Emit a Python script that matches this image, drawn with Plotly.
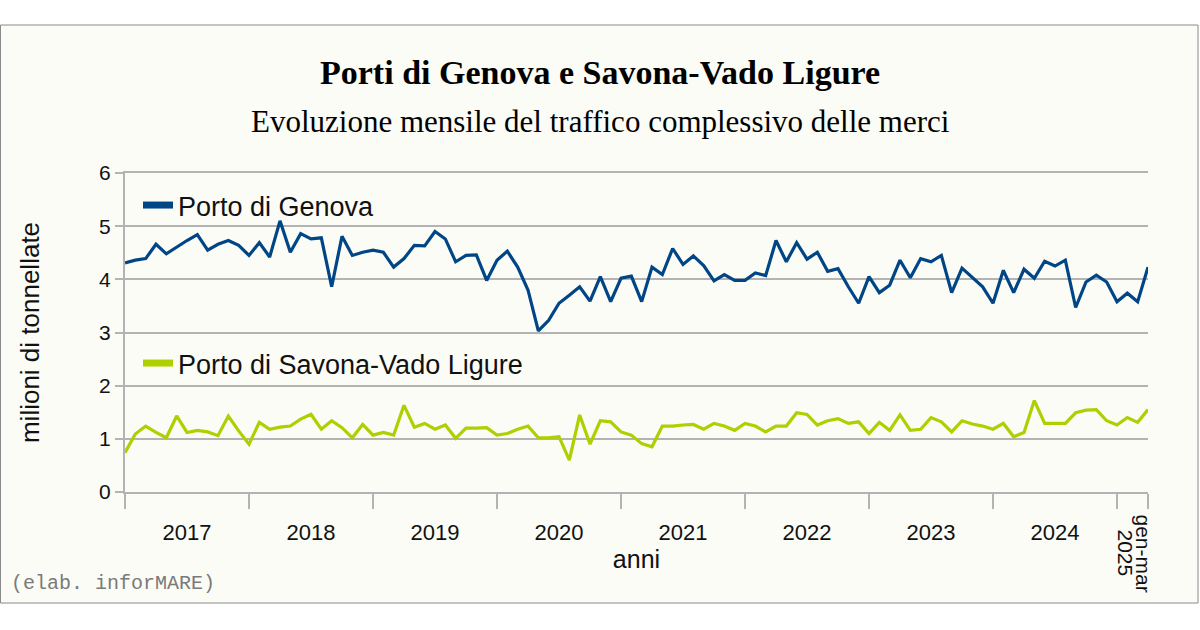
import plotly.graph_objects as go

# ---- data (million tonnes per month) ----
genova = [4.31, 4.36, 4.39, 4.66, 4.48, 4.61, 4.73, 4.84, 4.55, 4.66, 4.73, 4.64, 4.45, 4.69, 4.42, 5.10, 4.51,
          4.86, 4.76, 4.78, 3.86, 4.81, 4.45, 4.51, 4.55, 4.51, 4.23, 4.39, 4.64, 4.63, 4.90, 4.76, 4.33,
          4.45, 4.46, 3.98, 4.36, 4.53, 4.23, 3.80, 3.03, 3.23, 3.55, 3.70, 3.86, 3.59, 4.05, 3.58, 4.02, 4.06,
          3.58, 4.23, 4.09, 4.58, 4.28, 4.44, 4.26, 3.97, 4.09, 3.98, 3.98, 4.12, 4.07, 4.73, 4.33, 4.69,
          4.38, 4.51, 4.15, 4.20, 3.86, 3.55, 4.05, 3.75, 3.89, 4.36, 4.03, 4.39, 4.33, 4.45, 3.75, 4.21, 4.03,
          3.86, 3.55, 4.17, 3.75, 4.19, 4.02, 4.34, 4.25, 4.36, 3.47, 3.95, 4.08, 3.95, 3.58, 3.74, 3.58, 4.23]

savona = [0.74, 1.09, 1.24, 1.12, 1.02, 1.43, 1.12, 1.16, 1.13, 1.06, 1.43, 1.15, 0.90, 1.31, 1.18, 1.22, 1.24,
          1.37, 1.46, 1.18, 1.34, 1.21, 1.02, 1.27, 1.07, 1.12, 1.07, 1.63, 1.22, 1.29, 1.18, 1.26, 1.01,
          1.20, 1.20, 1.21, 1.07, 1.10, 1.18, 1.24, 1.02, 1.02, 1.04, 0.60, 1.45, 0.90, 1.34, 1.32, 1.13, 1.07,
          0.91, 0.85, 1.24, 1.24, 1.26, 1.27, 1.18, 1.29, 1.24, 1.16, 1.29, 1.24, 1.13, 1.24, 1.24, 1.49,
          1.46, 1.26, 1.34, 1.38, 1.29, 1.32, 1.10, 1.31, 1.16, 1.45, 1.16, 1.18, 1.40, 1.32, 1.13, 1.34, 1.28,
          1.24, 1.18, 1.29, 1.04, 1.12, 1.72, 1.29, 1.29, 1.29, 1.49, 1.54, 1.55, 1.34, 1.26, 1.40, 1.31, 1.55]

months = list(range(len(genova)))

year_boundaries = [0, 12, 24, 36, 48, 60, 72, 84, 96, 99]
year_label_pos = [6, 18, 30, 42, 54, 66, 78, 90]
year_labels = ["2017", "2018", "2019", "2020", "2021", "2022", "2023", "2024"]
last_label_pos = 97.5
last_label_line1 = "gen-mar"
last_label_line2 = "2025"

y_ticks = [0, 1, 2, 3, 4, 5, 6]

BLUE = "#004586"
GREEN = "#aecf00"
GRID = "#b3b3b3"
BG = "#fbfcf6"

fig = go.Figure()

fig.add_trace(go.Scatter(x=months, y=genova, mode="lines", line=dict(color=BLUE, width=3.2),
                         showlegend=False, hoverinfo="skip"))
fig.add_trace(go.Scatter(x=months, y=savona, mode="lines", line=dict(color=GREEN, width=3.2),
                         showlegend=False, hoverinfo="skip"))
# legend entries (thicker key lines as in the reference)
fig.add_trace(go.Scatter(x=[None], y=[None], mode="lines", line=dict(color=BLUE, width=7),
                         name="Porto di Genova", legend="legend"))
fig.add_trace(go.Scatter(x=[None], y=[None], mode="lines", line=dict(color=GREEN, width=7),
                         name="Porto di Savona-Vado Ligure", legend="legend2"))

L, R, T, B = 125, 52, 173, 138
W, H = 1200, 630
pw, ph = W - L - R, H - T - B

def px(x):
    return (x - L) / pw

def py(y):
    return (H - B - y) / ph

legend_font = dict(family="Liberation Sans, Arial, sans-serif", size=27, color="#111")

fig.update_layout(
    width=W, height=H,
    margin=dict(l=L, r=R, t=T, b=B),
    paper_bgcolor="white",
    plot_bgcolor="rgba(0,0,0,0)",
    font=dict(family="Liberation Sans, Arial, sans-serif", color="#111"),
    xaxis=dict(
        range=[0, 99],
        tickmode="array", tickvals=year_label_pos, ticktext=year_labels,
        ticks="outside", ticklen=20, tickcolor="rgba(0,0,0,0)",
        tickfont=dict(size=22, color="#111"),
        showgrid=False, zeroline=False,
        showline=True, linecolor=GRID, linewidth=2, mirror=True,
        minor=dict(tickmode="array", tickvals=year_boundaries, ticks="outside",
                   ticklen=15, tickwidth=2, tickcolor=GRID, showgrid=False),
        title=dict(text="anni", font=dict(size=25, color="#111"), standoff=6),
    ),
    yaxis=dict(
        range=[0, 6],
        tickmode="array", tickvals=y_ticks,
        ticks="outside", ticklen=8, tickwidth=2, tickcolor=GRID,
        tickfont=dict(size=21, color="#111"),
        showgrid=True, gridcolor=GRID, gridwidth=2,
        zeroline=False,
        showline=True, linecolor=GRID, linewidth=2,
        title=dict(text="milioni di tonnellate", font=dict(size=26, color="#111"), standoff=52),
    ),
    legend=dict(x=px(138), y=py(181), xanchor="left", yanchor="top",
                bgcolor="rgba(0,0,0,0)", font=legend_font, itemwidth=30),
    legend2=dict(x=px(138), y=py(339), xanchor="left", yanchor="top",
                 bgcolor="rgba(0,0,0,0)", font=legend_font, itemwidth=30),
    shapes=[
        dict(type="rect", xref="paper", yref="paper", layer="below",
             x0=px(0.5), x1=px(1198), y0=py(603), y1=py(25),
             line=dict(color="#8a8a8a", width=1), fillcolor=BG),
    ],
    annotations=[
        dict(text="<b>Porti di Genova e Savona-Vado Ligure</b>", xref="paper", yref="paper",
             x=px(600), y=py(73), xanchor="center", yanchor="middle", showarrow=False,
             font=dict(family="Liberation Serif, Times New Roman, serif", size=34, color="#000")),
        dict(text="Evoluzione mensile del traffico complessivo delle merci", xref="paper", yref="paper",
             x=px(600), y=py(121), xanchor="center", yanchor="middle", showarrow=False,
             font=dict(family="Liberation Serif, Times New Roman, serif", size=31, color="#000")),
        dict(text=last_label_line1, xref="x", yref="paper", x=last_label_pos, y=py(553),
             xanchor="center", yanchor="middle", textangle=90, showarrow=False, xshift=11,
             font=dict(size=21, color="#111")),
        dict(text=last_label_line2, xref="x", yref="paper", x=last_label_pos, y=py(553),
             xanchor="center", yanchor="middle", textangle=90, showarrow=False, xshift=-7,
             font=dict(size=21, color="#111")),
        dict(text="(elab. inforMARE)", xref="paper", yref="paper",
             x=px(9), y=py(583), xanchor="left", yanchor="middle", showarrow=False,
             font=dict(family="Liberation Mono, Courier New, monospace", size=20, color="#7a7a7a")),
    ],
)

fig.write_html("out.html")
